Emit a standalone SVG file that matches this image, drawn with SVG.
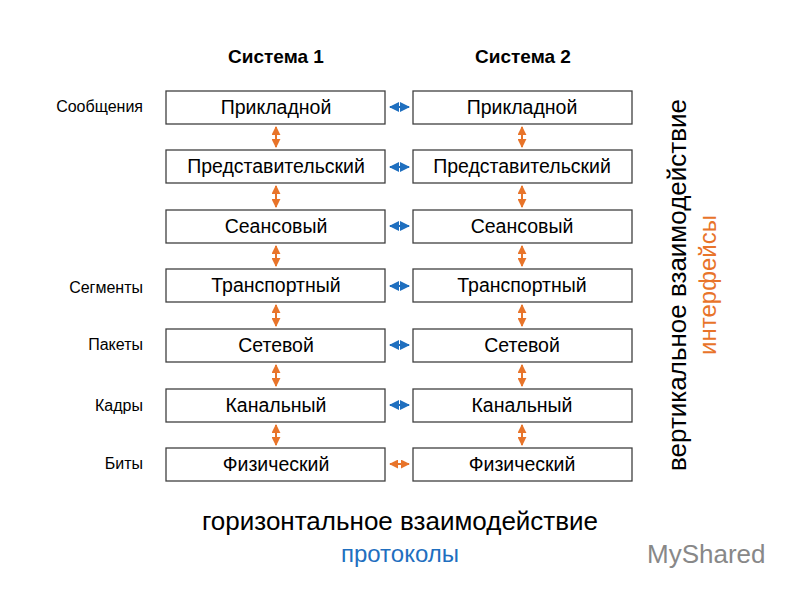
<svg xmlns="http://www.w3.org/2000/svg" width="800" height="600" viewBox="0 0 800 600">
<defs>
<marker id="ab" viewBox="0 0 10 10" refX="9" refY="5" markerWidth="5" markerHeight="5" orient="auto-start-reverse"><path d="M0,0L10,5L0,10z" fill="#1f6fbf"/></marker>
<marker id="ao" viewBox="0 0 10 10" refX="9" refY="5" markerWidth="4.5" markerHeight="4.5" orient="auto-start-reverse"><path d="M0,0L10,5L0,10z" fill="#e8742a"/></marker>
</defs>
<style>
text{font-family:"Liberation Sans",Arial,sans-serif;fill:#000}
.box{fill:#fff;stroke:#404040;stroke-width:1.3}
.n{font-size:19.5px;text-anchor:middle}
.s{font-size:16px;text-anchor:end}
.b{stroke:#1f6fbf;stroke-width:2;marker-start:url(#ab);marker-end:url(#ab)}
.o{stroke:#e8742a;stroke-width:2;marker-start:url(#ao);marker-end:url(#ao)}
</style>
<rect width="800" height="600" fill="#fff"/>
<text x="276" y="63" font-size="19" font-weight="bold" text-anchor="middle">Система 1</text>
<text x="523" y="63" font-size="19" font-weight="bold" text-anchor="middle">Система 2</text>
<g id="labels">
<text class="s" x="143" y="112">Сообщения</text>
<text class="s" x="143" y="293">Сегменты</text>
<text class="s" x="143" y="350">Пакеты</text>
<text class="s" x="143" y="411">Кадры</text>
<text class="s" x="143" y="469">Биты</text>
</g>
<g id="l1"><rect class="box" x="166" y="91" width="219" height="33"/><text class="n" x="276" y="114">Прикладной</text></g>
<g id="l2"><rect class="box" x="166" y="150" width="219" height="33"/><text class="n" x="276" y="173">Представительский</text></g>
<g id="l3"><rect class="box" x="166" y="210" width="219" height="33"/><text class="n" x="276" y="233">Сеансовый</text></g>
<g id="l4"><rect class="box" x="166" y="269" width="219" height="33"/><text class="n" x="276" y="292">Транспортный</text></g>
<g id="l5"><rect class="box" x="166" y="329" width="219" height="33"/><text class="n" x="276" y="352">Сетевой</text></g>
<g id="l6"><rect class="box" x="166" y="389" width="219" height="33"/><text class="n" x="276" y="412">Канальный</text></g>
<g id="l7"><rect class="box" x="166" y="448" width="219" height="33"/><text class="n" x="276" y="471">Физический</text></g>
<g id="r1"><rect class="box" x="413" y="91" width="219" height="33"/><text class="n" x="522" y="114">Прикладной</text></g>
<g id="r2"><rect class="box" x="413" y="150" width="219" height="33"/><text class="n" x="522" y="173">Представительский</text></g>
<g id="r3"><rect class="box" x="413" y="210" width="219" height="33"/><text class="n" x="522" y="233">Сеансовый</text></g>
<g id="r4"><rect class="box" x="413" y="269" width="219" height="33"/><text class="n" x="522" y="292">Транспортный</text></g>
<g id="r5"><rect class="box" x="413" y="329" width="219" height="33"/><text class="n" x="522" y="352">Сетевой</text></g>
<g id="r6"><rect class="box" x="413" y="389" width="219" height="33"/><text class="n" x="522" y="412">Канальный</text></g>
<g id="r7"><rect class="box" x="413" y="448" width="219" height="33"/><text class="n" x="522" y="471">Физический</text></g>
<g id="connectors">
<line class="b" x1="390" y1="107" x2="409" y2="107"/>
<line class="b" x1="390" y1="167" x2="409" y2="167"/>
<line class="b" x1="390" y1="226" x2="409" y2="226"/>
<line class="b" x1="390" y1="286" x2="409" y2="286"/>
<line class="b" x1="390" y1="345" x2="409" y2="345"/>
<line class="b" x1="390" y1="405" x2="409" y2="405"/>
<line class="o" x1="390" y1="464" x2="409" y2="464"/>
<line class="o" x1="276" y1="127" x2="276" y2="147"/>
<line class="o" x1="276" y1="186" x2="276" y2="207"/>
<line class="o" x1="276" y1="246" x2="276" y2="266"/>
<line class="o" x1="276" y1="305" x2="276" y2="326"/>
<line class="o" x1="276" y1="365" x2="276" y2="386"/>
<line class="o" x1="276" y1="425" x2="276" y2="445"/>
<line class="o" x1="522" y1="127" x2="522" y2="147"/>
<line class="o" x1="522" y1="186" x2="522" y2="207"/>
<line class="o" x1="522" y1="246" x2="522" y2="266"/>
<line class="o" x1="522" y1="305" x2="522" y2="326"/>
<line class="o" x1="522" y1="365" x2="522" y2="386"/>
<line class="o" x1="522" y1="425" x2="522" y2="445"/>
</g>
<text x="400" y="530" font-size="26" text-anchor="middle">горизонтальное взаимодействие</text>
<text x="400" y="562" font-size="24" text-anchor="middle" style="fill:#1f6fbf">протоколы</text>
<text transform="translate(686,285) rotate(-90)" font-size="26" text-anchor="middle">вертикальное взаимодействие</text>
<text transform="translate(716,285) rotate(-90)" font-size="24" text-anchor="middle" style="fill:#e8742a">интерфейсы</text>
<text x="647" y="563" font-size="26" style="fill:#888">MyShared</text>
</svg>
